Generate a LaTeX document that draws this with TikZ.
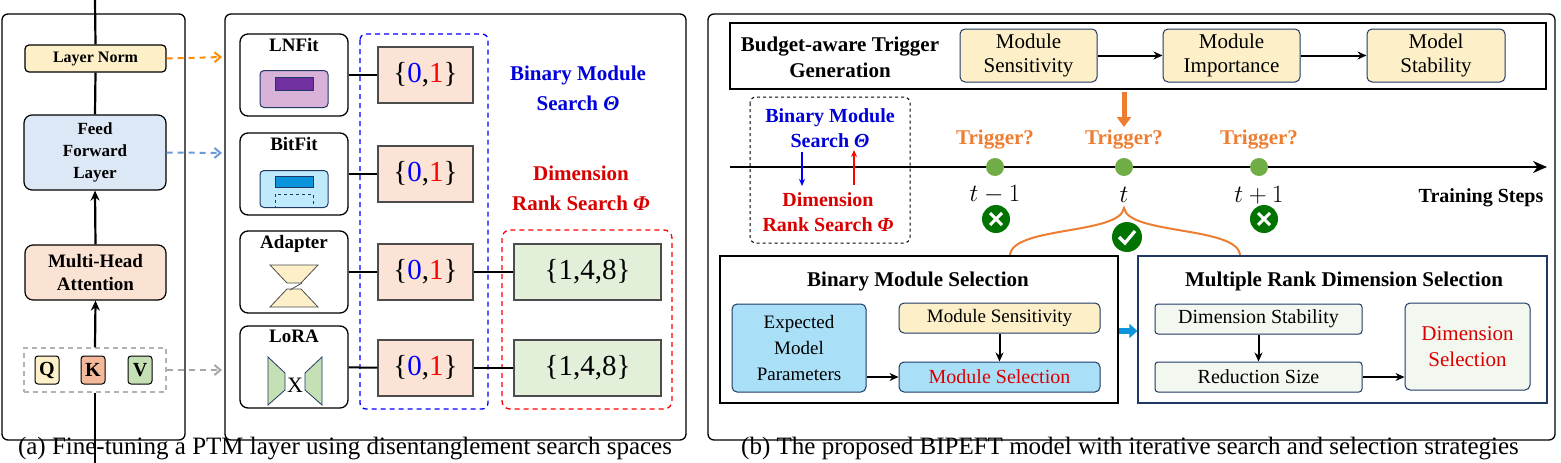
\documentclass[tikz,border=0pt]{standalone}
\usepackage{fontspec}
\setmainfont{Liberation Serif}
\usetikzlibrary{arrows.meta,shapes.geometric,calc}
\definecolor{lnY}{HTML}{FDF0C8}
\definecolor{ffB}{HTML}{DCE8F6}
\definecolor{mhO}{HTML}{FBE3D3}
\definecolor{kO}{HTML}{F4B99A}
\definecolor{vG}{HTML}{C5E0B4}
\definecolor{setO}{HTML}{FBE3D6}
\definecolor{setG}{HTML}{E2F0D9}
\definecolor{cyanB}{HTML}{A9E0F8}
\definecolor{grnD}{HTML}{70AD47}
\definecolor{orng}{HTML}{ED7D31}
\definecolor{paleG}{HTML}{F2F8F0}
\definecolor{mblue}{HTML}{1F3864}
\definecolor{purp}{HTML}{7030A0}
\tikzset{
 rbox/.style={draw,line width=1.3pt,rounded corners=6pt},
 mod/.style={draw,line width=1.3pt,rounded corners=8pt,fill=white},
 set/.style={draw=black!70,line width=1.2pt,font=\fontsize{29}{30}\selectfont},
 yb/.style={draw=mblue,line width=1pt,rounded corners=5pt,fill=lnY,font=\fontsize{21}{24}\selectfont,align=center},
 bt/.style={font=\bfseries\fontsize{14}{16}\selectfont,align=center},
 conn/.style={line width=2.2pt},
 arr/.style={line width=2pt,-{Stealth[length=9pt,width=8pt]}},
 darr/.style={line width=2pt,dash pattern=on 6pt off 5pt,-{Straight Barb[length=6pt,width=10pt]}},
 gdot/.style={circle,fill=grnD,minimum size=18pt,inner sep=0pt},
 mk/.style={circle,fill=green!45!black,minimum size=30pt,inner sep=0pt},
 dsh/.style={dash pattern=on 5pt off 4pt,line width=1.3pt},
}
\begin{document}
\begin{tikzpicture}[x=1pt,y=-1pt]
\useasboundingbox (0,0) rectangle (1561,463);
% ===== (a) left panel
\node[rbox,minimum width=183pt,minimum height=426pt] (lp) at (93.5,227) {};
\coordinate (top) at (95,0); \coordinate (bot) at (95,463);
\node[draw,line width=1.2pt,rounded corners=4pt,fill=lnY,minimum width=141pt,minimum height=27pt,inner sep=0pt,font=\bfseries\fontsize{16}{18}\selectfont] (ln) at (95.5,58.5) {Layer Norm};
\node[draw,line width=1.2pt,rounded corners=8pt,fill=ffB,minimum width=142pt,minimum height=75pt,inner sep=0pt,align=center,font=\bfseries\fontsize{17}{22}\selectfont] (ff) at (95,152.5) {Feed\\Forward\\Layer};
\node[draw,line width=1.2pt,rounded corners=8pt,fill=mhO,minimum width=141pt,minimum height=55pt,inner sep=0pt,align=center,font=\bfseries\fontsize{19}{23}\selectfont] (mh) at (95.5,272.5) {Multi-Head\\Attention};
\node[draw=gray!60,dsh,minimum width=142pt,minimum height=44pt] (qkv) at (95,370) {};
\foreach \n/\x/\c in {Q/47/lnY,K/93/kO,V/140/vG}
  \node[draw,line width=1pt,rounded corners=3pt,fill=\c,minimum width=24pt,minimum height=28pt,inner sep=0pt,font=\bfseries\fontsize{20}{20}\selectfont] (\n) at (\x,370) {\n};
\draw[conn] (top) -- (ln.north);
\draw[conn] (ln.south) -- (ff.north);
\draw[line width=2.2pt,-{Stealth[length=10pt,width=9pt]}] (mh.north) -- (ff.south);
\draw[line width=2.2pt,-{Stealth[length=10pt,width=9pt]}] (qkv.north) -- (mh.south);
\draw[conn] (qkv.south) -- (bot);
% ===== (a) right panel
\node[rbox,minimum width=461pt,minimum height=426pt] (rp) at (455.5,227) {};
\coordinate (a1) at (222,57); \coordinate (a2) at (222,153); \coordinate (a3) at (222,370);
\draw[darr,draw=orange!90!yellow] (ln.east) -- (a1);
\draw[darr,draw=cyan!50!blue!60] (ff.east) -- (a2);
\draw[darr,draw=gray!70] (qkv.east) -- (a3);
\draw[blue,dsh,rounded corners=6pt] (360,34) rectangle (488,409);
\draw[red,dsh,rounded corners=8pt] (502,230) rectangle (672,409);
\foreach \nm/\t/\y in {m1/LNFit/75,m2/BitFit/174,m3/Adapter/272,m4/LoRA/367}{
  \node[mod,minimum width=108pt,minimum height=82pt] (\nm) at (294,\y) {};
  \node[font=\bfseries\fontsize{19}{20}\selectfont,anchor=north] at ($(\nm.north)+(0,1)$) {\t};
}
\foreach \s/\y in {s1/75,s2/174,s3/272,s4/368}
  \node[set,fill=setO,minimum width=95pt,minimum height=56pt] (\s) at (425.5,\y) {\{\textcolor{blue}{0},\textcolor{red}{1}\}};
\foreach \g/\y in {g3/272,g4/368}
  \node[set,fill=setG,minimum width=147pt,minimum height=56pt] (\g) at (587.5,\y) {\{1,4,8\}};
\foreach \a/\b in {m1/s1,m2/s2,m3/s3,m4/s4,s3/g3,s4/g4} \draw[line width=2pt] (\a) -- (\b);
% icons
\node[draw=mblue,line width=1pt,rounded corners=4pt,fill=violet!30,minimum width=68pt,minimum height=37pt] (i1) at (294,89) {};
\node[draw=mblue,fill=purp,minimum width=38pt,minimum height=13pt,inner sep=0pt] at (294,84) {};
\node[draw=mblue,line width=1pt,rounded corners=4pt,fill=cyan!25,minimum width=68pt,minimum height=37pt] (i2) at (294,189) {};
\node[draw=mblue,fill=cyan!80!blue,minimum width=38pt,minimum height=11pt,inner sep=0pt] at (294,182) {};
\draw[mblue,dashed,line width=1pt] (275,194) rectangle (313,207);
\draw[black!70,fill=lnY,line width=0.8pt] (270,265) -- (318,265) -- (301,283) -- (287,283) -- cycle;
\draw[black!70,fill=lnY,line width=0.8pt] (270,307) -- (318,307) -- (301,289) -- (287,289) -- cycle;
\draw[black!70,line width=0.8pt] (290,290) -- (302,283);
\draw[mblue,fill=vG,line width=0.8pt] (268,357) -- (285,373) -- (285,390) -- (268,405) -- cycle;
\draw[mblue,fill=vG,line width=0.8pt] (322,357) -- (305,373) -- (305,390) -- (322,405) -- cycle;
\node[font=\fontsize{22}{22}\selectfont] at (295,385) {X};
\node[bt,text=blue!85!black,font=\bfseries\fontsize{21}{30}\selectfont] (bms) at (578,88) {Binary Module\\Search \textit{Θ}};
\node[bt,text=red!85!black,font=\bfseries\fontsize{21}{30}\selectfont] (drs) at (581,188) {Dimension\\Rank Search \textit{Φ}};
\node[font=\fontsize{25}{27}\selectfont] (capa) at (345,449) {(a) Fine-tuning a PTM layer using disentanglement search spaces};
% ===== (b)
\node[rbox,minimum width=847pt,minimum height=426pt] (bp) at (1131.5,227) {};
\node[draw,line width=1.2pt,minimum width=816pt,minimum height=66pt] (tb) at (1138,56) {};
\node[bt,font=\bfseries\fontsize{21}{26}\selectfont] (btg) at (840,57) {Budget-aware Trigger\\Generation};
\node[yb,minimum width=137pt,minimum height=53pt,inner sep=0pt] (ms) at (1028.5,55.5) {Module\\Sensitivity};
\node[yb,minimum width=137pt,minimum height=53pt,inner sep=0pt] (mi) at (1231.5,55.5) {Module\\Importance};
\node[yb,minimum width=138pt,minimum height=53pt,inner sep=0pt] (mst) at (1436,55.5) {Model\\Stability};
\draw[arr] (ms) -- (mi); \draw[arr] (mi) -- (mst);
\coordinate (oa) at (1124,127);
\draw[orng,line width=5pt,-{Triangle[length=10pt,width=14pt]}] (1124,92) -- (oa);
\coordinate (tl0) at (730,167); \coordinate (tl1) at (1547,167);
\draw[line width=2.2pt,-{Stealth[length=14pt,width=12pt]}] (tl0) -- (tl1);
\draw[black,dashed,line width=1pt,rounded corners=6pt] (750,97) rectangle (910,243);
\node[bt,text=blue!85!black,font=\bfseries\fontsize{20}{25}\selectfont] at (830,128) {Binary Module\\Search \textit{Θ}};
\node[bt,text=red!85!black,font=\bfseries\fontsize{20}{25}\selectfont] at (828,212) {Dimension\\Rank Search \textit{Φ}};
\coordinate (ba0) at (802,152); \coordinate (ba1) at (802,186);
\coordinate (ra0) at (854,185); \coordinate (ra1) at (854,150);
\draw[blue,line width=1.5pt,-{Stealth[length=7pt,width=6pt]}] (ba0) -- (ba1);
\draw[red,line width=1.5pt,-{Stealth[length=7pt,width=6pt]}] (ra0) -- (ra1);
\foreach \d/\x/\l in {d1/995/t-1,d2/1124/t,d3/1259/t+1}{
  \node[gdot] (\d) at (\x,167) {};
  \node[text=orng,font=\bfseries\fontsize{21}{22}\selectfont] at (\x,140) {Trigger?};
  \node[font=\fontsize{24}{24}\selectfont] at (\x,195) {$\l$};
}
\node[font=\bfseries\fontsize{20}{22}\selectfont] at (1481,198) {Training Steps};
\foreach \c/\x/\y in {x1/996/219,x2/1264/219}{
  \node[mk,minimum size=28pt] (\c) at (\x,\y) {};
  \draw[white,line width=3pt] ($(\c)+(-6,-6)$) -- ($(\c)+(6,6)$) ($(\c)+(-6,6)$) -- ($(\c)+(6,-6)$);
}
\node[mk,minimum size=30pt] (ck) at (1127,237) {};
\draw[white,line width=3.2pt] ($(ck)+(-8,0)$) -- ($(ck)+(-2,6)$) -- ($(ck)+(8,-6)$);
\draw[orng,line width=2pt] (1010,256) .. controls (1010,226) and (1120,235) .. (1124,208) .. controls (1128,235) and (1240,226) .. (1240,256);
% bottom boxes
\node[draw,line width=1.3pt,minimum width=398pt,minimum height=147pt] (bl) at (919,329.5) {};
\node[draw=mblue,line width=1.3pt,minimum width=409pt,minimum height=147pt] (br) at (1342.5,329.5) {};
\node[font=\bfseries\fontsize{21}{22}\selectfont] at (918,281) {Binary Module Selection};
\node[font=\bfseries\fontsize{21}{22}\selectfont] at (1344,281) {Multiple Rank Dimension Selection};
\node[draw=mblue,line width=1pt,rounded corners=5pt,fill=cyanB,minimum width=134pt,minimum height=88pt,inner sep=0pt,align=center,font=\fontsize{19}{26}\selectfont] (emp) at (799,348) {Expected\\Model\\Parameters};
\node[yb,minimum width=201pt,minimum height=30pt,inner sep=0pt,font=\fontsize{19}{20}\selectfont] (bms2) at (999.5,318) {Module Sensitivity};
\node[draw=mblue,line width=1pt,rounded corners=5pt,fill=cyanB,minimum width=201pt,minimum height=30pt,inner sep=0pt,text=red!85!black,font=\fontsize{20}{21}\selectfont] (msel) at (999.5,377) {Module Selection};
\draw[arr] (bms2) -- (msel);
\draw[arr] (emp.east |- msel) -- (msel);
\node[draw=mblue,line width=1pt,rounded corners=3pt,fill=paleG,minimum width=207pt,minimum height=30pt,inner sep=0pt,font=\fontsize{20}{21}\selectfont] (ds) at (1258.5,319) {Dimension Stability};
\node[draw=mblue,line width=1pt,rounded corners=3pt,fill=paleG,minimum width=207pt,minimum height=30pt,inner sep=0pt,font=\fontsize{20}{21}\selectfont] (rs) at (1258.5,377) {Reduction Size};
\node[draw=mblue,line width=1pt,rounded corners=5pt,fill=paleG,minimum width=125pt,minimum height=87pt,inner sep=0pt,align=center,text=red!85!black,font=\fontsize{21}{26}\selectfont] (dsel) at (1467.5,346.5) {Dimension\\Selection};
\draw[arr] (ds) -- (rs);
\draw[arr] (rs.east) -- (dsel.west |- rs);
\draw[cyan!80!blue,line width=6pt,-{Triangle[length=8pt,width=14pt]}] (bl.east |- 0,331) -- (br.west |- 0,331);
\node[font=\fontsize{25}{27}\selectfont] (capb) at (1130,449) {(b) The proposed BIPEFT model with iterative search and selection strategies};
\end{tikzpicture}
\end{document}
